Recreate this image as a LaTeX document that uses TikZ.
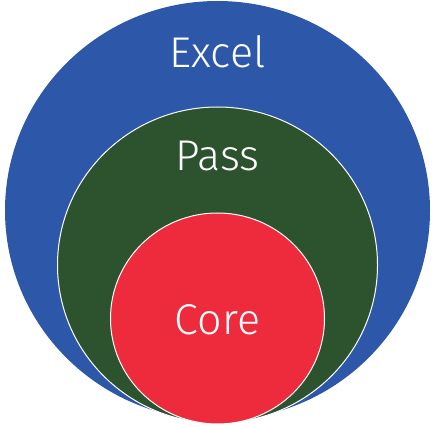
\documentclass[tikz,border=0pt]{standalone}
\usetikzlibrary{shapes.geometric}
\usepackage{fontspec}
\setmainfont{Fira Sans Light}
\definecolor{excelblue}{HTML}{2D57A8}
\definecolor{passgreen}{HTML}{2D522E}
\definecolor{corered}{HTML}{EE2B3D}
\begin{document}
\begin{tikzpicture}[x=1pt,y=-1pt,
  ring/.style={draw=white,line width=1pt},
  lbl/.style={text=white,anchor=base,inner sep=0pt,font=\fontsize{43}{43}\selectfont}]
\useasboundingbox (0,0) rectangle (438,427);
\node[ellipse,fill=excelblue,minimum width=425pt,minimum height=419pt,inner sep=0pt] (excel) at (217.5,210.5) {};
\node[ellipse,ring,fill=passgreen,minimum width=320pt,minimum height=316pt,inner sep=0pt] (pass) at (217.5,265) {};
\node[ellipse,ring,fill=corered,minimum width=214pt,minimum height=211pt,inner sep=0pt] (core) at (217.5,318.5) {};
\node[lbl] (t1) at (217.5,68) {Excel};
\node[lbl] (t2) at (217.5,171) {Pass};
\node[lbl] (t3) at (217.5,334) {Core};
\end{tikzpicture}
\end{document}
